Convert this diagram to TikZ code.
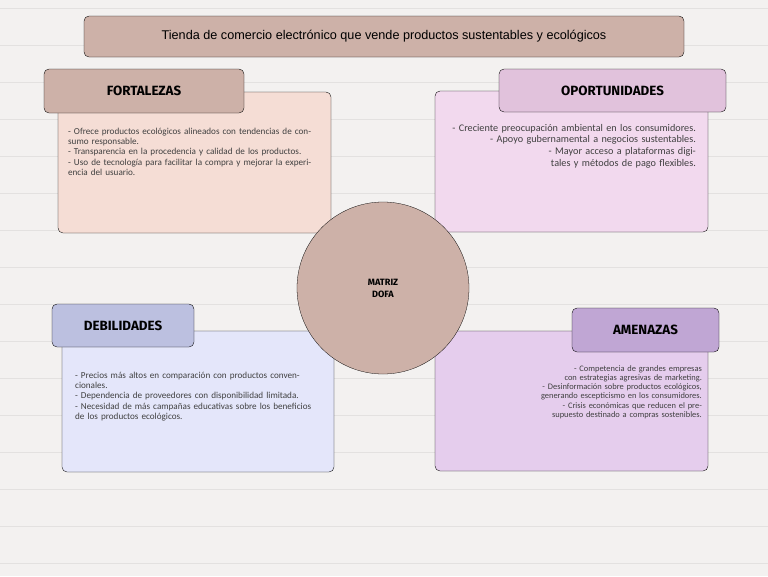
\documentclass[tikz,border=0pt]{standalone}
\usepackage{fontspec}
\setmainfont{Carlito}
\newfontfamily\titlefont{Liberation Sans}
\newfontfamily\headfont{Fira Sans}
\definecolor{paper}{HTML}{F3F1F0}
\definecolor{rule}{HTML}{E3E1E0}
\definecolor{rosa}{HTML}{CDB1A8}
\definecolor{rosaclaro}{HTML}{F5DDD5}
\definecolor{lila}{HTML}{E1C2DC}
\definecolor{lilaclaro}{HTML}{F2D9EE}
\definecolor{azul}{HTML}{BCC0E0}
\definecolor{azulclaro}{HTML}{E4E6FA}
\definecolor{morado}{HTML}{C0A6D4}
\definecolor{moradoclaro}{HTML}{E5CDED}
\tikzset{
  caja/.style={draw, rounded corners=2.5mm, line width=0.5pt},
  cabecera/.style={draw, rounded corners=2.5mm, line width=0.5pt, font=\headfont\bfseries\fontsize{19}{22}\selectfont},
  texto/.style={font=\fontsize{13}{14.5}\selectfont, inner sep=0pt, text=black!75}
}
\begin{document}
\begin{tikzpicture}[x=0.5mm, y=-0.5mm]
\fill[paper] (0,0) rectangle (768,576);
\useasboundingbox (0,0) rectangle (768,576);
\foreach \y in {8,45,82,119,156,193,230,267,304,341,378,415,452,489,526,563}
  \draw[rule, line width=0.6pt] (0,\y) -- (768,\y);
% titulo
\draw[caja, fill=rosa] (84,16) rectangle (684,57);
\node[font=\titlefont\fontsize{18}{20}\selectfont] (titulo) at (384,36.5) {Tienda de comercio electrónico que vende productos sustentables y ecológicos};
% cajas
\draw[caja, fill=rosaclaro] (58,92) rectangle (331,233);
\draw[caja, fill=lilaclaro] (435,91) rectangle (708,232);
\draw[caja, fill=azulclaro] (62,331) rectangle (334,472);
\draw[caja, fill=moradoclaro] (435,331) rectangle (708,471);
% cabeceras
\draw[cabecera, fill=rosa] (44,69) rectangle (244,113) node[midway] (fort) {FORTALEZAS};
\draw[cabecera, fill=lila] (499,69) rectangle (726,112) node[midway] (opor) {OPORTUNIDADES};
\draw[cabecera, fill=azul] (52,304) rectangle (194,347) node[midway] (debi) {DEBILIDADES};
\draw[cabecera, fill=morado] (572,308) rectangle (719,352) node[midway] (amen) {AMENAZAS};
% centro
\node[circle, draw, fill=rosa, minimum size=172\pgflinewidth, minimum size=86mm, align=center,
  font=\headfont\bfseries\fontsize{13}{17}\selectfont] (dofa) at (383,288) {MATRIZ\\DOFA};
% textos
\node[texto, anchor=north west, text width=125mm, align=left] (tf) at (68,128)
  {- Ofrece productos ecológicos alineados con tendencias de consumo responsable.\\
   - Transparencia en la procedencia y calidad de los productos.\\
   - Uso de tecnología para facilitar la compra y mejorar la experiencia del usuario.};
\node[texto, anchor=north east, text width=125mm, align=right, font=\fontsize{14.5}{16.5}\selectfont] (to) at (696,124)
  {- Creciente preocupación ambiental en los consumidores.\\
   - Apoyo gubernamental a negocios sustentables.\\
   - Mayor acceso a plataformas digitales y métodos de pago flexibles.};
\node[texto, anchor=north west, text width=120mm, align=left] (td) at (75,372)
  {- Precios más altos en comparación con productos convencionales.\\
   - Dependencia de proveedores con disponibilidad limitada.\\
   - Necesidad de más campañas educativas sobre los beneficios de los productos ecológicos.};
\node[texto, anchor=north east, text width=130mm, align=right, font=\fontsize{12}{13.2}\selectfont] (ta) at (702,365)
  {- Competencia de grandes empresas con estrategias agresivas de marketing.\\
   - Desinformación sobre productos ecológicos, generando escepticismo en los consumidores.\\
   - Crisis económicas que reducen el presupuesto destinado a compras sostenibles.};
\end{tikzpicture}
\end{document}
